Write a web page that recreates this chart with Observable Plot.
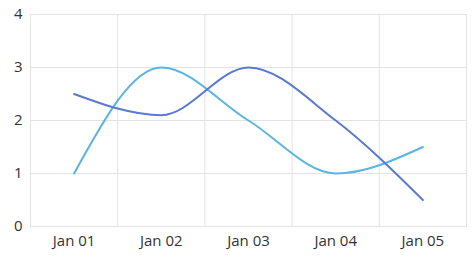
<!DOCTYPE html>
<html>
<head>
<meta charset="utf-8">
<script src="https://cdn.jsdelivr.net/npm/d3@7"></script>
<script src="https://cdn.jsdelivr.net/npm/@observablehq/plot@0.6"></script>
<style>
  html, body { margin: 0; padding: 0; background: #fff; }
  #chart svg { display: block; }
  #chart svg text { font-size: 15px; fill: #333; }
</style>
</head>
<body>
<div id="chart"></div>
<script>
const dates = ["Jan 01", "Jan 02", "Jan 03", "Jan 04", "Jan 05"];
const seriesA = [2.5, 2.1, 3, 2, 0.5];
const seriesB = [1, 3, 2, 1, 1.5];
const yTicks = [0, 1, 2, 3, 4];

const dataA = dates.map((d, i) => ({i, v: seriesA[i]}));
const dataB = dates.map((d, i) => ({i, v: seriesB[i]}));
const bounds = d3.range(dates.length - 1).map(i => i + 0.5);

const chart = Plot.plot({
  width: 474,
  height: 266,
  marginLeft: 30,
  marginRight: 8,
  marginTop: 14,
  marginBottom: 40,
  style: {fontFamily: "'Open Sans', sans-serif", fontSize: "15px", color: "#333", background: "#fff"},
  x: {domain: [-0.5, dates.length - 0.5], label: null},
  y: {domain: [0, 4], label: null},
  marks: [
    Plot.gridY(yTicks, {stroke: "#e3e3e3", strokeOpacity: 1}),
    Plot.ruleX(bounds, {stroke: "#e3e3e3"}),
    Plot.frame({stroke: "#e3e3e3"}),
    Plot.axisX(d3.range(dates.length), {tickFormat: i => dates[i], tickSize: 0, tickPadding: 9}),
    Plot.axisY(yTicks, {tickFormat: d3.format("d"), tickSize: 0, tickPadding: 8}),
    Plot.line(dataB, {x: "i", y: "v", curve: "monotone-x", stroke: "#5bb5de", strokeWidth: 2}),
    Plot.line(dataA, {x: "i", y: "v", curve: "monotone-x", stroke: "#5b78d2", strokeWidth: 2})
  ]
});
document.getElementById("chart").appendChild(chart);
</script>
</body>
</html>
